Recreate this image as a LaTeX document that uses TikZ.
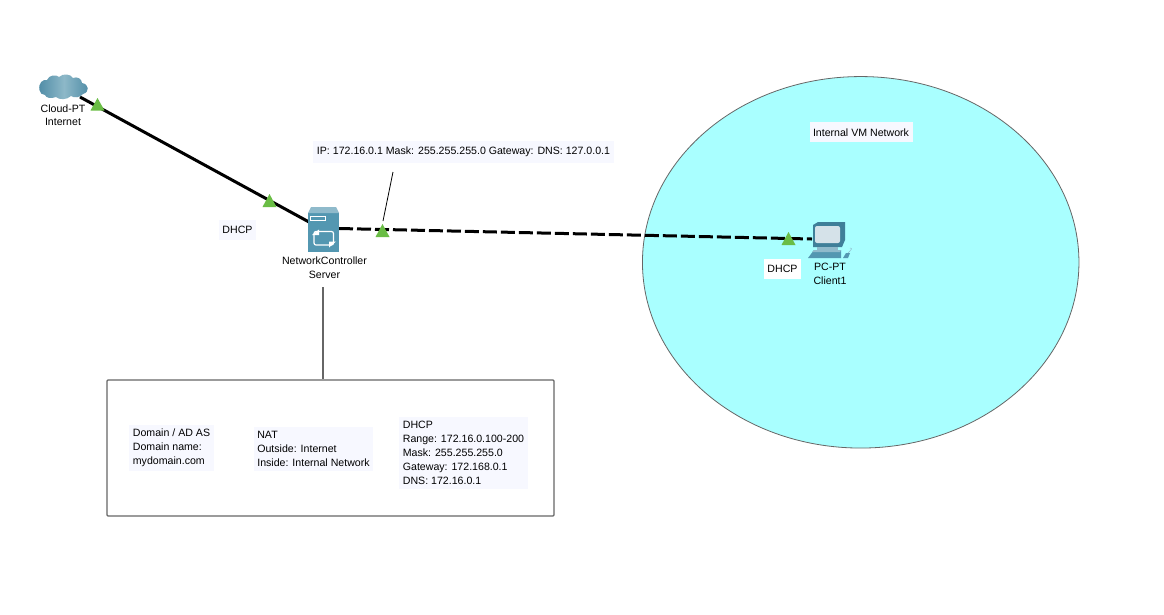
\documentclass[tikz,border=0pt]{standalone}
\usepackage{fontspec}
\setmainfont{Liberation Sans}
\usetikzlibrary{shapes.geometric}
\definecolor{labelbg}{HTML}{F7F8FF}
\definecolor{netfill}{HTML}{A9FFFF}
\definecolor{tri}{HTML}{6ABD45}
\definecolor{srv}{HTML}{5397B1}
\definecolor{srvtop}{HTML}{8FBACB}
\definecolor{cloudA}{HTML}{4F8CA6}
\definecolor{cloudB}{HTML}{8DB8C8}
\definecolor{pcdark}{HTML}{3F7F99}
\definecolor{pcscreen}{HTML}{D5E2E9}
\definecolor{boxline}{HTML}{666666}
\tikzset{
  txt/.style={font=\fontsize{10.6}{14}\selectfont, align=left, inner sep=0pt, text=black},
  devlabel/.style={txt, align=center},
  lbl/.style={txt, fill=labelbg, inner xsep=3.5pt, inner ysep=4pt},
  tallbl/.style={txt, fill=labelbg, inner xsep=3.5pt, inner ysep=6pt},
  link/.style={line width=3pt, black},
  dashlink/.style={line width=3pt, black, dash pattern=on 14pt off 4pt},
  light/.style={fill=tri, draw=none},
}
\begin{document}
\begin{tikzpicture}[x=1pt,y=-1pt]
\useasboundingbox (0,0) rectangle (1164,614);
\fill[white] (0,0) rectangle (1164,614);

% internal network ellipse
\node[draw=boxline, line width=0.8pt, fill=netfill, ellipse, minimum width=436.5pt, minimum height=371.5pt, inner sep=0pt] (vmnet) at (860.7,262.3) {};
\node[tallbl] (vmlabel) at (861,132.3) {Internal VM Network};

% anchor coordinates
\coordinate (cloudport) at (80,97);
\coordinate (serverin) at (309,222);
\coordinate (serverout) at (339,228.5);
\coordinate (pcport) at (812,239);
\coordinate (serverbase) at (323,287);
\coordinate (ipnote) at (393,172);
\coordinate (ltip) at (383,221);

% details box
\node[draw=boxline, line width=1.3pt, minimum width=447pt, minimum height=136pt, inner sep=0pt, rounded corners=1pt] (details) at (330.5,448) {};

% links
\draw[link] (cloudport) -- (serverin);
\draw[dashlink] (serverout) -- (pcport);
\draw[black, line width=0.8pt] (ipnote) -- (ltip);
\draw[boxline, line width=1.2pt] (serverbase) -- (details.north -| serverbase);

% cloud
\node[minimum size=0pt, inner sep=0pt] (cloud) at (64,87) {};
\shade[left color=cloudA, right color=cloudA, middle color=cloudB]
  (39.5,90) .. controls (38,83) and (43,79) .. (47,80)
  .. controls (49,75) and (56,74) .. (59,77)
  .. controls (63,73) and (71,74) .. (73,78)
  .. controls (77,76) and (82,79) .. (82,83)
  .. controls (89,84) and (90,92) .. (83,94)
  .. controls (80,98) and (74,98) .. (71,96)
  .. controls (67,100) and (59,100) .. (56,97)
  .. controls (51,99) and (46,98) .. (45,95)
  .. controls (42,95) and (40,93) .. (39.5,90) -- cycle;
\node[devlabel] (cloudlabel) at (63,115) {Cloud-PT\\[-0.5pt]Internet};

% server
\node[minimum width=31pt, minimum height=39pt, inner sep=0pt, fill=srv] (server) at (323.5,232.5) {};
\fill[srvtop] (308,213) -- (311,207) -- (336,207) -- (339,213) -- cycle;
\draw[white, line width=0.8pt] (310.5,216.5) rectangle (325,220.7);
\draw[white, line width=1.2pt, rounded corners=2pt] (314,231.5) -- (333.5,231.5) -- (333.5,245) -- (314,245) -- cycle;
\fill[white] (312,235) -- (319,229.5) -- (319,235) -- cycle;
\fill[white] (336,241.5) -- (329,247.5) -- (329,241.5) -- cycle;
\node[devlabel] (serverlabel) at (324.5,267.5) {NetworkController\\[-0.5pt]Server};

% PC
\node[minimum size=0pt, inner sep=0pt] (pc) at (829,240) {};
\fill[pcdark] (813,225) -- (818,222) -- (845,222) -- (845,240) -- (842,247) -- (813,247) -- cycle;
\fill[pcscreen, rounded corners=2pt] (815,226) rectangle (840,243);
\fill[srvtop] (817,247) rectangle (838,250);
\fill[srv] (808,258) -- (814,250) -- (841,250) -- (841,258) -- cycle;
\fill[srvtop] (814,250) -- (841,250) -- (840,252) -- (812,252) -- cycle;
\fill[srv] (843,258) -- (846,253) -- (850,253) -- (848,258) -- cycle;
\draw[srvtop, line width=0.5pt] (848,253) .. controls (851,250) and (853,248) .. (850,248);
\node[devlabel] (pclabel) at (830,274) {PC-PT\\[-0.5pt]Client1};

% link lights
\fill[light] (97.5,98) -- (104.5,110.5) -- (90.5,110.5) -- cycle;
\fill[light] (269.5,194) -- (276.5,207) -- (262.5,207) -- cycle;
\fill[light] (382.5,224) -- (389.5,237) -- (375.5,237) -- cycle;
\fill[light] (788.5,232) -- (795.5,245) -- (781.5,245) -- cycle;

% labels
\node[tallbl] (dhcpa) at (237.5,230) {DHCP};
\node[tallbl, fill=white] (dhcpb) at (782.5,269) {DHCP};
\node[tallbl] (iplabel) at (463.5,152) {IP: 172.16.0.1 Mask: 255.255.255.0 Gateway: DNS: 127.0.0.1};
\node[lbl] (domain) at (171.5,448) {Domain / AD AS\\Domain name:\\mydomain.com};
\node[lbl] (nat) at (313.5,448.8) {NAT\\Outside: Internet\\Inside: Internal Network};
\node[lbl] (dhcpinfo) at (463.5,452.8) {DHCP\\Range: 172.16.0.100-200\\Mask: 255.255.255.0\\Gateway: 172.168.0.1\\DNS: 172.16.0.1};
\end{tikzpicture}
\end{document}
